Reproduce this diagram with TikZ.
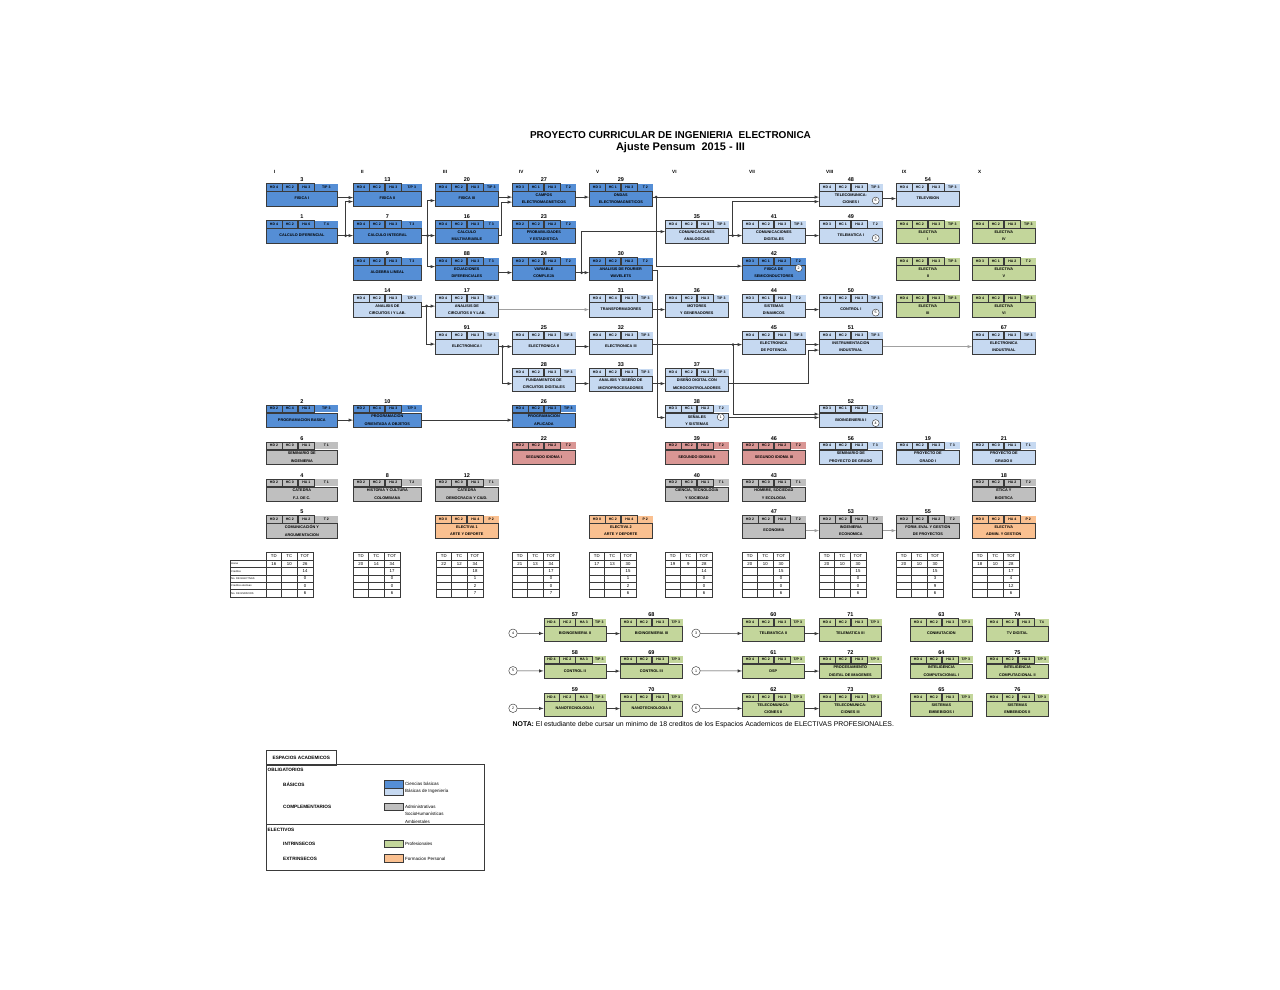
\documentclass[tikz,border=0pt]{standalone}
\usepackage{fontspec}
\setmainfont{Liberation Sans}
\definecolor{azul}{HTML}{558ED5}
\definecolor{celeste}{HTML}{C6D9F1}
\definecolor{gris}{HTML}{BFBFBF}
\definecolor{verde}{HTML}{C3D69B}
\definecolor{rojo}{HTML}{D99694}
\definecolor{naranja}{HTML}{FAC090}
\definecolor{linea}{HTML}{3A3A3A}
\definecolor{claro}{HTML}{A0A0A0}
\begin{document}
\begin{tikzpicture}[x=1pt,y=-1pt,
    caja/.style={draw=linea,line width=.7pt,anchor=north west,minimum height=14.5,inner sep=0,align=center,font=\fontsize{3.8}{7.5}\selectfont\bfseries},
    celda/.style={draw=linea,line width=.45pt,anchor=south west,minimum height=7.5,inner sep=0,font=\fontsize{3.5}{4}\selectfont\bfseries},
    num/.style={inner sep=0,font=\fontsize{5.5}{6}\selectfont\bfseries},
    flecha/.style={-latex,draw=linea,line width=.55pt},
    circ/.style={draw=linea,fill=white,circle,inner sep=0,minimum size=7,line width=.45pt,font=\fontsize{3.6}{4}\selectfont},
    rejilla/.style={draw=linea,line width=.45pt},
    dato/.style={inner sep=0,font=\fontsize{4.3}{5}\selectfont},
    leyt/.style={inner sep=0,font=\fontsize{4.7}{5.5}\selectfont\bfseries},
    leyn/.style={inner sep=0,anchor=west,font=\fontsize{4.5}{5.5}\selectfont}]
    \fill[white] (0,0) rectangle (1280,989);
    \useasboundingbox (0,0) rectangle (1280,989);
    \newcommand\curso[9]{%
        \node[caja,fill=#3,minimum width=\anc] (#1) at #2 {#9};
        \fill[#3] ([yshift=7.5]#1.north west) rectangle ([yshift=.35]#1.north east);
        \node[celda,fill=#3,minimum width=15.5] (#1a) at (#1.north west) {HD #5};
        \node[celda,fill=#3,minimum width=15.5] (#1b) at (#1a.south east) {HC #6};
        \node[celda,fill=#3,minimum width=16.5] (#1c) at (#1b.south east) {HA #7};
        \path (#1c.east) -- (#1c.east -| #1.east) node[midway,celda,draw=none,anchor=center] (#1d) {#8};
        \node[num] (#1n) at ([yshift=11]#1.north) {#4};
    }
    \newcommand\tabla[8]{%
        \begin{scope}[shift={(#1,552)}]
            \draw[rejilla] (0,0) rectangle (47,45);
            \foreach \f in {8,15.4,22.8,30.2,37.6} \draw[rejilla] (0,\f) -- (47,\f);
            \draw[rejilla] (15.5,0) -- (15.5,45) (31,0) -- (31,45);
            \node[dato] at (7.75,4) {TD}; \node[dato] at (23.25,4) {TC}; \node[dato] at (39,4) {TOT};
            \node[dato] at (7.75,11.7) {#2}; \node[dato] at (23.25,11.7) {#3}; \node[dato] at (39,11.7) {#4};
            \node[dato] at (39,19.1) {#5}; \node[dato] at (39,26.5) {#6};
            \node[dato] at (39,33.9) {#7}; \node[dato] at (39,41.3) {#8};
        \end{scope}}
    \node[font=\fontsize{10}{11}\selectfont\bfseries] (titulo) at (670.5,135) {PROYECTO CURRICULAR DE INGENIERIA\ \ ELECTRONICA};
    \node[font=\fontsize{11}{12}\selectfont\bfseries] (subtitulo) at (680.5,148) {Ajuste Pensum\ \ 2015 - III};
    \foreach \x/\r in {274/I,361/II,443/III,519/IV,596/V,672/VI,749/VII,826/VIII,902/IX,978/X}
        \node[num,anchor=west,font=\fontsize{4.6}{5}\selectfont\bfseries] (col\r) at (\x,172) {\r};

    \def\anc{71}
    \curso{c3}{(266,191)}{azul}{3}{4}{2}{3}{T/P 3}{FISICA I}
    \curso{c1}{(266,228)}{azul}{1}{4}{2}{6}{T 4}{CALCULO DIFERENCIAL}
    \curso{c2}{(266,412.5)}{azul}{2}{2}{4}{3}{T/P 3}{PROGRAMACION BASICA}
    \curso{c6}{(266,449.5)}{gris}{6}{2}{0}{1}{T 1}{SEMINARIO DE\\INGENIERIA}
    \curso{c4}{(266,486.5)}{gris}{4}{2}{0}{1}{T 1}{CATEDRA\\F.J. DE C.}
    \curso{c5}{(266,523)}{gris}{5}{2}{2}{2}{T 2}{COMUNICACIÓN Y\\ARGUMENTACION}
    \def\anc{68}
    \curso{c13}{(353,191)}{azul}{13}{4}{2}{3}{T/P 3}{FISICA II}
    \curso{c7}{(353,228)}{azul}{7}{4}{2}{3}{T 3}{CALCULO INTEGRAL}
    \curso{c9}{(353,265)}{azul}{9}{4}{2}{3}{T 3}{ALGEBRA LINEAL}
    \curso{c14}{(353,302)}{celeste}{14}{4}{2}{3}{T/P 3}{ANALISIS DE\\CIRCUITOS I Y LAB.}
    \curso{c10}{(353,412.5)}{azul}{10}{2}{4}{3}{T/P 3}{PROGRAMACION\\ORIENTADA A OBJETOS}
    \curso{c8}{(353,486.5)}{gris}{8}{2}{2}{2}{T 2}{HISTORIA Y CULTURA\\COLOMBIANA}
    \def\anc{63}
    \curso{c20}{(435,191)}{azul}{20}{4}{2}{3}{T/P 3}{FISICA III}
    \curso{c16}{(435,228)}{azul}{16}{4}{2}{3}{T 3}{CALCULO\\MULTIVARIABLE}
    \curso{c88}{(435,265)}{azul}{88}{4}{2}{3}{T 3}{ECUACIONES\\DIFERENCIALES}
    \curso{c17}{(435,302)}{celeste}{17}{4}{2}{3}{T/P 3}{ANALISIS DE\\CIRCUITOS II Y LAB.}
    \curso{c91}{(435,339)}{celeste}{91}{4}{2}{3}{T/P 3}{ELECTRONICA I}
    \curso{c12}{(435,486.5)}{gris}{12}{2}{0}{1}{T 1}{CATEDRA\\DEMOCRACIA Y CIUD.}
    \curso{e1}{(435,523)}{naranja}{}{0}{2}{4}{P 2}{ELECTIVA 1\\ARTE Y DEPORTE}
    \curso{c27}{(512,191)}{azul}{27}{3}{1}{3}{T 2}{CAMPOS\\ELECTROMAGNETICOS}
    \curso{c23}{(512,228)}{azul}{23}{2}{2}{2}{T 2}{PROBABILIDADES\\Y ESTADISTICA}
    \curso{c24}{(512,265)}{azul}{24}{2}{2}{2}{T 2}{VARIABLE\\COMPLEJA}
    \curso{c25}{(512,339)}{celeste}{25}{4}{2}{3}{T/P 3}{ELECTRONICA II}
    \curso{c28}{(512,376)}{celeste}{28}{4}{2}{3}{T/P 3}{FUNDAMENTOS DE\\CIRCUITOS DIGITALES}
    \curso{c26}{(512,412.5)}{azul}{26}{4}{2}{3}{T/P 3}{PROGRAMACION\\APLICADA}
    \curso{c22}{(512,449.5)}{rojo}{22}{2}{2}{2}{T 2}{SEGUNDO IDIOMA I}
    \curso{c29}{(589,191)}{azul}{29}{3}{1}{3}{T 2}{ONDAS\\ELECTROMAGNETICOS}
    \curso{c30}{(589,265)}{azul}{30}{2}{2}{2}{T 2}{ANALISIS DE FOURIER\\WAVELETS}
    \curso{c31}{(589,302)}{celeste}{31}{4}{4}{3}{T/P 3}{TRANSFORMADORES}
    \curso{c32}{(589,339)}{celeste}{32}{4}{2}{3}{T/P 3}{ELECTRONICA III}
    \curso{c33}{(589,376)}{celeste}{33}{4}{2}{3}{T/P 3}{ANALISIS Y DISEÑO DE\\MICROPROCESADORES}
    \curso{e2}{(589,523)}{naranja}{}{0}{2}{4}{P 2}{ELECTIVA 2\\ARTE Y DEPORTE}
    \curso{c35}{(665,228)}{celeste}{35}{4}{2}{3}{T/P 3}{COMUNICACIONES\\ANALOGICAS}
    \curso{c36}{(665,302)}{celeste}{36}{4}{2}{3}{T/P 3}{MOTORES\\Y GENERADORES}
    \curso{c37}{(665,376)}{celeste}{37}{4}{2}{3}{T/P 3}{DISEÑO DIGITAL CON\\MICROCONTROLADORES}
    \curso{c38}{(665,412.5)}{celeste}{38}{3}{1}{2}{T 2}{SEÑALES\\Y SISTEMAS}
    \curso{c39}{(665,449.5)}{rojo}{39}{2}{2}{2}{T 2}{SEGUNDO IDIOMA II}
    \curso{c40}{(665,486.5)}{gris}{40}{2}{0}{1}{T 1}{CIENCIA, TECNOLOGIA\\Y SOCIEDAD}
    \curso{c41}{(742,228)}{celeste}{41}{4}{2}{3}{T/P 3}{COMUNICACIONES\\DIGITALES}
    \curso{c42}{(742,265)}{azul}{42}{3}{1}{2}{T 2}{FISICA DE\\SEMICONDUCTORES}
    \curso{c44}{(742,302)}{celeste}{44}{3}{1}{2}{T 2}{SISTEMAS\\DINAMICOS}
    \curso{c45}{(742,339)}{celeste}{45}{4}{2}{3}{T/P 3}{ELECTRONICA\\DE POTENCIA}
    \curso{c46}{(742,449.5)}{rojo}{46}{2}{2}{2}{T 2}{SEGUNDO IDIOMA III}
    \curso{c43}{(742,486.5)}{gris}{43}{2}{0}{1}{T 1}{HOMBRE, SOCIEDAD\\Y ECOLOGIA}
    \curso{c47}{(742,523)}{gris}{47}{2}{2}{2}{T 2}{ECONOMIA}
    \curso{c48}{(819,191)}{celeste}{48}{4}{2}{3}{T/P 3}{TELECOMUNICA-\\CIONES I}
    \curso{c49}{(819,228)}{celeste}{49}{3}{1}{2}{T 2}{TELEMATICA I}
    \curso{c50}{(819,302)}{celeste}{50}{4}{2}{3}{T/P 3}{CONTROL I}
    \curso{c51}{(819,339)}{celeste}{51}{4}{2}{3}{T/P 3}{INSTRUMENTACION\\INDUSTRIAL}
    \curso{c52}{(819,412.5)}{celeste}{52}{3}{1}{2}{T 2}{BIOINGENIERIA I}
    \curso{c56}{(819,449.5)}{celeste}{56}{4}{2}{3}{T 3}{SEMINARIO DE\\PROYECTO DE GRADO}
    \curso{c53}{(819,523)}{gris}{53}{2}{2}{2}{T 2}{INGENIERIA\\ECONOMICA}
    \curso{c54}{(896,191)}{celeste}{54}{4}{2}{3}{T/P 3}{TELEVISION}
    \curso{ei}{(896,228)}{verde}{}{4}{2}{3}{T/P 3}{ELECTIVA\\I}
    \curso{eii}{(896,265)}{verde}{}{4}{2}{3}{T/P 3}{ELECTIVA\\II}
    \curso{eiii}{(896,302)}{verde}{}{4}{2}{3}{T/P 3}{ELECTIVA\\III}
    \curso{c19}{(896,449.5)}{celeste}{19}{4}{2}{3}{T 3}{PROYECTO DE\\GRADO I}
    \curso{c55}{(896,523)}{gris}{55}{2}{2}{2}{T 2}{FORM. EVAL Y GESTION\\DE PROYECTOS}
    \curso{eiv}{(972,228)}{verde}{}{4}{2}{3}{T/P 3}{ELECTIVA\\IV}
    \curso{ev}{(972,265)}{verde}{}{3}{1}{2}{T 2}{ELECTIVA\\V}
    \curso{evi}{(972,302)}{verde}{}{4}{2}{3}{T/P 3}{ELECTIVA\\VI}
    \curso{c67}{(972,339)}{celeste}{67}{4}{2}{3}{T/P 3}{ELECTRONICA\\INDUSTRIAL}
    \curso{c21}{(972,449.5)}{celeste}{21}{2}{0}{1}{T 1}{PROYECTO DE\\GRADO II}
    \curso{c18}{(972,486.5)}{gris}{18}{2}{2}{2}{T 2}{ETICA Y\\BIOETICA}
    \curso{eadm}{(972,523)}{naranja}{}{0}{2}{4}{P 2}{ELECTIVA\\ADMIN. Y GESTION}

    \node[circ] (m48) at ([xshift=-7,yshift=-2]c48.east) {6};
    \node[circ] (m49) at ([xshift=-7,yshift=-2.5]c49.east) {3};
    \node[circ] (m42) at ([xshift=-7,yshift=4.5]c42.east) {2};
    \node[circ] (m50) at ([xshift=-7,yshift=-3]c50.east) {5};
    \node[circ] (m52) at ([xshift=-7,yshift=-3]c52.east) {4};
    \node[circ] (m38) at ([xshift=-8,yshift=3]c38.east) {1};

    \draw[flecha] ([yshift=1]c3.east) -- ([yshift=1]c13.west);
    \coordinate (b1) at ([xshift=8]c1.east);
    \draw[flecha] (c1) -- (c7);
    \draw[flecha] (b1) |- ([yshift=-3]c13.west);
    \coordinate (b2) at ([xshift=6]c7.east);
    \draw[flecha] (c7) -- (c16);
    \draw[flecha] (b2) |- ([yshift=-2]c20.west);
    \draw[flecha] (b2) |- ([yshift=6]c88.west);
    \draw[flecha] ([yshift=1.5]c20.east) -- ([yshift=1.5]c27.west);
    \draw[flecha] (c16.east) -- ++(3,0) |- ([yshift=-3.5]c27.west);
    \draw[flecha] (c88) -- (c24);
    \draw[flecha] ([yshift=1.5]c27.east) -- ([yshift=1.5]c29.west);
    \coordinate (b3) at ([xshift=6]c24.east);
    \draw[flecha] (c24) -- (c30);
    \draw[flecha] (b3) |- ([yshift=4]c35.west);
    \coordinate (b4) at ([xshift=3.5,yshift=1.5]c29.east);
    \draw[flecha] ([yshift=1.5]c29.east) -- ([yshift=1.5]c48.west);
    \draw[flecha] (b4) |- ([yshift=6.5]c42.west);
    \coordinate (b5) at ([xshift=4]c35.east);
    \draw[flecha] (c35) -- (c41);
    \draw[flecha] (b5) |- ([yshift=-3]c48.west);
    \draw[flecha] ([yshift=2]c30.east) -- ++(5,0) |- ([yshift=2.5]c38.west);
    \coordinate (b6) at ([xshift=5,yshift=3.5]c14.east);
    \draw[flecha] ([yshift=3.5]c14.east) -- ([yshift=3.5]c17.west);
    \draw[flecha] (b6) |- ([yshift=2.5]c91.west);
    \draw[flecha,draw=claro] (c17) -- (c31);
    \draw[flecha] (c31) -- (c36);
    \coordinate (b7) at ([xshift=4]c91.east);
    \draw[flecha] (c91) -- (c25);
    \draw[flecha] (b7) |- (c28.west);
    \draw[flecha] (c25) -- (c32);
    \draw[flecha] (c28) -- (c33);
    \coordinate (b8) at ([xshift=-9,yshift=2]c45.west);
    \draw[flecha] ([yshift=2]c32.east) -- ([yshift=2]c45.west);
    \draw[flecha] (b8) |- ([yshift=6]c52.west);
    \draw[flecha] (c33) -- (c37);
    \draw[flecha] (c37.east) -| ([xshift=-11,yshift=-3.5]c51.west) -- ([yshift=-3.5]c51.west);
    \draw[flecha] ([yshift=2]c45.east) -- ([yshift=2]c51.west);
    \draw[flecha] ([yshift=2.5]c38.east) -- ([yshift=2.5]c52.west);
    \draw[flecha] (c41) -- (c49);
    \draw[flecha] (c44) -- (c50);
    \draw[flecha] (c48) -- (c54);
    \draw[flecha,draw=claro] (c51) -- (c67);
    \draw[flecha] (c2) -- (c10);
    \draw[flecha] (c10) -- (c26);
    \draw[flecha,draw=claro] (c47) -- (c53);
    \draw[flecha,draw=claro] (c53) -- (c55);
    \foreach \b in {b1,b2,b3,b4,b5,b6,b7,b8} \fill[linea] (\b) circle (1.6);

    \tabla{266}{16}{10}{26}{14}{0}{0}{6}
    \tabla{353}{20}{14}{34}{17}{0}{0}{6}
    \tabla{436}{22}{12}{34}{18}{1}{2}{7}
    \tabla{512}{21}{13}{34}{17}{0}{0}{7}
    \tabla{589}{17}{13}{30}{15}{1}{2}{6}
    \tabla{665}{19}{9}{28}{14}{0}{0}{6}
    \tabla{742}{20}{10}{30}{15}{0}{0}{6}
    \tabla{819}{20}{10}{30}{15}{0}{0}{6}
    \tabla{896}{20}{10}{30}{15}{3}{9}{6}
    \tabla{972}{18}{10}{28}{17}{4}{12}{6}
    \draw[rejilla] (230,560) rectangle (266,597);
    \foreach \f in {567.4,574.8,582.2,589.6} \draw[rejilla] (230,\f) -- (266,\f);
    \foreach \f/\t in {563.7/Horas,571.1/Creditos,578.5/No. DE ELECTIVAS,585.9/Creditos electivas,593.3/No. DE ESPACIOS}
        \node[dato,anchor=west,font=\fontsize{2.6}{3}\selectfont] (fila\f) at (231,\f) {\t};

    \def\anc{62}
    \curso{c57}{(543.5,626)}{verde}{57}{4}{2}{3}{T/P 3}{BIOINGENIERIA II}
    \curso{c68}{(620,626)}{verde}{68}{4}{2}{3}{T/P 3}{BIOINGENIERIA III}
    \curso{c58}{(543.5,663.5)}{verde}{58}{4}{2}{3}{T/P 3}{CONTROL II}
    \curso{c69}{(620,663.5)}{verde}{69}{4}{2}{3}{T/P 3}{CONTROL III}
    \curso{c59}{(543.5,701)}{verde}{59}{4}{2}{3}{T/P 3}{NANOTECNOLOGIA I}
    \curso{c70}{(620,701)}{verde}{70}{4}{2}{3}{T/P 3}{NANOTECNOLOGIA II}
    \curso{c60}{(742,626)}{verde}{60}{4}{2}{3}{T/P 3}{TELEMATICA II}
    \curso{c71}{(819,626)}{verde}{71}{4}{2}{3}{T/P 3}{TELEMATICA III}
    \curso{c61}{(742,663.5)}{verde}{61}{4}{2}{3}{T/P 3}{DSP}
    \curso{c72}{(819,663.5)}{verde}{72}{4}{2}{3}{T/P 3}{PROCESAMIENTO\\DIGITAL DE IMAGENES}
    \curso{c62}{(742,701)}{verde}{62}{4}{2}{3}{T/P 3}{TELECOMUNICA-\\CIONES II}
    \curso{c73}{(819,701)}{verde}{73}{4}{2}{3}{T/P 3}{TELECOMUNICA-\\CIONES III}
    \curso{c63}{(910,626)}{verde}{63}{4}{2}{3}{T/P 3}{CONMUTACION}
    \curso{c74}{(986,626)}{verde}{74}{4}{2}{3}{T4}{TV DIGITAL}
    \curso{c64}{(910,663.5)}{verde}{64}{4}{2}{3}{T/P 3}{INTELIGENCIA\\COMPUTACIONAL I}
    \curso{c75}{(986,663.5)}{verde}{75}{4}{2}{3}{T/P 3}{INTELIGENCIA\\COMPUTACIONAL II}
    \curso{c65}{(910,701)}{verde}{65}{4}{2}{3}{T/P 3}{SISTEMAS\\EMBEBIDOS I}
    \curso{c76}{(986,701)}{verde}{76}{4}{2}{3}{T/P 3}{SISTEMAS\\EMBEBIDOS II}
    \node[circ,minimum size=8.5] (k4) at (513,633.25) {4};
    \node[circ,minimum size=8.5] (k5) at (513,670.75) {5};
    \node[circ,minimum size=8.5] (k2) at (513,708.25) {2};
    \node[circ,minimum size=8.5] (k3) at (696,633.25) {3};
    \node[circ,minimum size=8.5] (k1) at (696,670.75) {1};
    \node[circ,minimum size=8.5] (k6) at (696,708.25) {6};
    \draw[flecha] (k4) -- (c57); \draw[flecha] (c57) -- (c68);
    \draw[flecha] (k5) -- (c58); \draw[flecha] (c58) -- (c69);
    \draw[flecha] (k2) -- (c59); \draw[flecha] (c59) -- (c70);
    \draw[flecha] (k3) -- (c60); \draw[flecha] (c60) -- (c71);
    \draw[flecha] (k1) -- (c61); \draw[flecha] (c61) -- (c72);
    \draw[flecha] (k6) -- (c62); \draw[flecha] (c62) -- (c73);
    \node[anchor=west,inner sep=0,font=\fontsize{6.9}{8}\selectfont] (nota) at (512.5,725) {\textbf{NOTA:} El estudiante debe cursar un minimo de 18 creditos de los Espacios Academicos de ELECTIVAS PROFESIONALES.};

    \node[leyt,draw=linea,line width=.6pt,minimum width=70,minimum height=14.5,anchor=north west] (pestana) at (266,750) {ESPACIOS ACADEMICOS};
    \draw[linea,line width=.6pt] (266,764.5) rectangle (484,870) (266,824.5) -- (484,824.5);
    \node[leyt,anchor=west] (obl) at (267.5,770) {OBLIGATORIOS};
    \node[leyt,anchor=west] (bas) at (283,784.5) {BÁSICOS};
    \node[leyt,anchor=west] (com) at (283,806.5) {COMPLEMENTARIOS};
    \node[leyt,anchor=west] (ele) at (267.5,829.5) {ELECTIVOS};
    \node[leyt,anchor=west] (intr) at (283,844) {INTRINSECOS};
    \node[leyt,anchor=west] (extr) at (283,858.5) {EXTRINSECOS};
    \draw[linea,line width=.8pt,fill=azul] (384.5,780.5) rectangle (403,788);
    \draw[linea,line width=.8pt,fill=celeste] (384.5,788) rectangle (403,795.5);
    \draw[linea,line width=.8pt,fill=gris] (384.5,803) rectangle (403,810.5);
    \draw[linea,line width=.8pt,fill=verde] (384.5,840) rectangle (403,847.5);
    \draw[linea,line width=.8pt,fill=naranja] (384.5,854.5) rectangle (403,862);
    \node[leyn] (l1) at (405,784) {Ciencias básicas};
    \node[leyn] (l2) at (405,791.5) {Básicas de Ingeniería};
    \node[leyn] (l3) at (405,806.5) {Administrativas};
    \node[leyn] (l4) at (405,814) {SocioHumanísticas};
    \node[leyn] (l5) at (405,821.5) {Ambientales};
    \node[leyn] (l6) at (405,844) {Profesionales};
    \node[leyn] (l7) at (405,858.5) {Formacion Personal};
\end{tikzpicture}
\end{document}
